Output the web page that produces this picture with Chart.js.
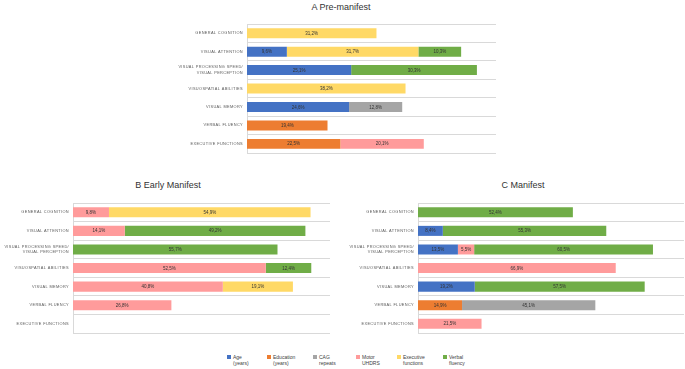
<!DOCTYPE html>
<html>
<head>
<meta charset="utf-8">
<script src="https://cdn.jsdelivr.net/npm/chart.js@4"></script>
<style>
  body { margin: 0; background: #fff; width: 685px; height: 369px; position: relative; overflow: hidden; font-family: "Liberation Sans", sans-serif; }
  canvas { position: absolute; }
  .title { position: absolute; font-size: 9px; color: #333; transform: translateX(-50%); white-space: nowrap; line-height: 1; }
  .leg { position: absolute; top: 354px; font-size: 5px; line-height: 6.3px; color: #404040; padding-left: 6px; }
  .leg i { position: absolute; left: 0; top: 1px; width: 4px; height: 4px; }
</style>
</head>
<body>
<div class="title" style="left:341px; top:3px;">A Pre-manifest</div>
<div class="title" style="left:168px; top:181px;">B Early Manifest</div>
<div class="title" style="left:523px; top:181px;">C Manifest</div>
<canvas id="chartA" style="left:0; top:0;"></canvas>
<canvas id="chartB" style="left:0; top:170px;"></canvas>
<canvas id="chartC" style="left:342px; top:170px;"></canvas>
<div id="legend"></div>
<script>
const categories = [
  "GENERAL COGNITION",
  "VISUAL ATTENTION",
  ["VISUAL PROCESSING SPEED/", "VISUAL PERCEPTION"],
  "VISUOSPATIAL ABILITIES",
  "VISUAL MEMORY",
  "VERBAL FLUENCY",
  "EXECUTIVE FUNCTIONS",
];
const seriesNames = [["Age", "(years)"], ["Education", "(years)"], ["CAG", "repeats"], ["Motor", "UHDRS"], ["Executive", "functions"], ["Verbal", "fluency"]];
const colors = ["#4472C4", "#ED7D31", "#A5A5A5", "#FF9B9B", "#FFD966", "#70AD47"];

// A Pre-manifest
const preAge       = [null, 9.6, 25.1, null, 24.6, null, null];
const preEducation = [null, null, null, null, null, 19.4, 22.5];
const preCag       = [null, null, null, null, 12.8, null, null];
const preMotor     = [null, null, null, null, null, null, 20.1];
const preExecutive = [31.2, 31.7, null, 38.2, null, null, null];
const preVerbal    = [null, 10.3, 30.3, null, null, null, null];

// B Early Manifest
const earlyAge       = [null, null, null, null, null, null, null];
const earlyEducation = [null, null, null, null, null, null, null];
const earlyCag       = [null, null, null, null, null, null, null];
const earlyMotor     = [9.8, 14.1, null, 52.5, 40.8, 26.8, null];
const earlyExecutive = [54.9, null, null, null, 19.1, null, null];
const earlyVerbal    = [null, 49.2, 55.7, 12.4, null, null, null];

// C Manifest
const manAge       = [null, 8.4, 13.5, null, 19.2, null, null];
const manEducation = [null, null, null, null, null, 14.9, null];
const manCag       = [null, null, null, null, null, 45.1, null];
const manMotor     = [null, null, 5.5, 66.9, null, null, 21.5];
const manExecutive = [null, null, null, null, null, null, null];
const manVerbal    = [52.4, 55.3, 60.5, null, 57.5, null, null];

const fmt = (v) => v.toFixed(1).replace(".", ",") + "%";

const valueLabels = {
  id: "valueLabels",
  beforeDraw(chart) {
    chart.ctx.letterSpacing = "0.35px";
  },
  afterDatasetsDraw(chart) {
    const ctx = chart.ctx;
    ctx.save();
    ctx.letterSpacing = "0px";
    ctx.font = '4.5px "Liberation Sans"';
    ctx.fillStyle = "#333";
    ctx.textAlign = "center";
    ctx.textBaseline = "middle";
    chart.data.datasets.forEach((ds, i) => {
      chart.getDatasetMeta(i).data.forEach((bar, j) => {
        const v = ds.data[j];
        if (v == null) return;
        const p = bar.getProps(["x", "y", "base"], true);
        ctx.fillText(fmt(v), (p.x + p.base) / 2, p.y + 0.3);
      });
    });
    ctx.restore();
  },
};

const makeChart = (id, w, h, series, max, axisWidth, padding) => {
  const canvas = document.getElementById(id);
  canvas.width = w;
  canvas.height = h;
  canvas.style.width = w + "px";
  canvas.style.height = h + "px";
  return new Chart(canvas, {
    type: "bar",
    data: {
      labels: categories,
      datasets: series.map((data, i) => ({
        label: seriesNames[i].join(" "),
        data: data,
        backgroundColor: colors[i],
        borderWidth: 0,
        categoryPercentage: 1,
        barPercentage: 0.54,
      })),
    },
    plugins: [valueLabels],
    options: {
      indexAxis: "y",
      responsive: false,
      animation: false,
      devicePixelRatio: 1,
      layout: { padding: padding },
      plugins: {
        legend: { display: false },
        title: { display: false },
        tooltip: { enabled: false },
      },
      scales: {
        x: {
          stacked: true,
          min: 0,
          max: max,
          display: false,
        },
        y: {
          stacked: true,
          grid: { color: "#D9D9D9", lineWidth: 1, drawTicks: false, offset: true },
          border: { display: true, color: "#D9D9D9" },
          ticks: {
            color: "#5a5a5a",
            padding: 4,
            font: { family: "Liberation Sans", size: 3.9, lineHeight: 1.5 },
          },
          afterFit: (scale) => { scale.width = axisWidth; },
        },
      },
    },
  });
};

makeChart("chartA", 685, 160,
  [preAge, preEducation, preCag, preMotor, preExecutive, preVerbal],
  60, 247, { top: 24, bottom: 5, left: 0, right: 189 });
makeChart("chartB", 342, 170,
  [earlyAge, earlyEducation, earlyCag, earlyMotor, earlyExecutive, earlyVerbal],
  70, 73, { top: 33, bottom: 2, left: 0, right: 12 });
makeChart("chartC", 343, 170,
  [manAge, manEducation, manCag, manMotor, manExecutive, manVerbal],
  90, 76, { top: 33, bottom: 2, left: 0, right: 1 });

// legend
const legendX = [227, 267, 313, 356, 397, 443];
const legend = document.getElementById("legend");
seriesNames.forEach((name, i) => {
  const item = document.createElement("div");
  item.className = "leg";
  item.style.left = legendX[i] + "px";
  item.innerHTML = '<i style="background:' + colors[i] + '"></i>' + name[0] + "<br>" + name[1];
  legend.appendChild(item);
});
</script>
</body>
</html>
